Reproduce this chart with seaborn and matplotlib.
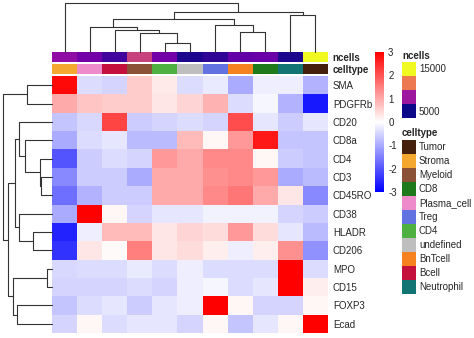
import numpy as np
import pandas as pd
import matplotlib
matplotlib.use("Agg")
import matplotlib.pyplot as plt
from matplotlib.colors import LinearSegmentedColormap, ListedColormap
from matplotlib.patches import Rectangle
import seaborn as sns

# data
markers = ["SMA", "PDGFRb", "CD20", "CD8a", "CD4", "CD3", "CD45RO",
           "CD38", "HLADR", "CD206", "MPO", "CD15", "FOXP3", "Ecad"]
celltypes = ["Stroma", "Plasma_cell", "Bcell", "Myeloid", "CD4", "undefined",
             "Treg", "BnTcell", "CD8", "Neutrophil", "Tumor"]
ncells = [7400, 6400, 4800, 9800, 6400, 3800, 4300, 5900, 6100, 3800, 16600]

values = [
    [2.9, -0.4, -0.5, 0.6, 0.25, -0.4, -0.25, -1.0, -0.2, -0.2, -0.9],   # SMA
    [1.0, 0.7, 0.6, 0.6, 0.3, 0.5, 0.9, -0.4, -0.1, -0.9, -2.7],        # PDGFRb
    [-0.7, -0.45, 2.2, -0.6, -0.5, -0.4, -0.5, 2.1, -0.3, -0.6, -0.3],  # CD20
    [-1.0, -0.4, -0.3, -0.8, -0.8, 0.8, 0.1, 1.2, 2.7, -0.7, -0.7],     # CD8a
    [-2.0, -0.6, -0.4, -0.5, 1.2, 1.0, 1.4, 1.4, 0.1, -0.6, -0.7],      # CD4
    [-1.4, -0.6, -0.6, -1.0, 1.0, 1.0, 1.3, 1.4, 1.2, -1.0, -0.8],      # CD3
    [-1.7, -0.9, -0.6, -0.6, 1.0, 1.0, 1.4, 1.6, 1.0, 0.3, -1.4],       # CD45RO
    [-1.0, 3.0, 0.1, -0.5, -0.3, -0.3, -0.15, -0.15, -0.15, -0.5, -0.6],  # CD38
    [-2.6, -0.2, 0.8, 0.8, 0.3, 0.5, 0.4, 1.2, 0.4, -0.3, -0.8],        # HLADR
    [-2.4, 0.3, 0.05, 1.5, 0.3, 0.4, 0.2, -0.2, 0.2, 1.3, -1.3],        # CD206
    [-0.45, -0.4, -0.4, -0.25, -0.4, -0.2, -0.4, -0.4, -0.4, 3.0, -0.4],  # MPO
    [-0.5, -0.5, -0.5, -0.4, -0.5, -0.2, -0.1, -0.4, -0.3, 3.0, 0.2],   # CD15
    [-0.7, -0.4, -0.3, -0.6, -0.3, -0.2, 3.0, 0.1, -0.5, -0.5, 0.1],    # FOXP3
    [-0.5, 0.1, -0.4, -0.3, -0.3, -0.5, 0.1, -0.7, -0.3, 0.1, 3.0],     # Ecad
]

# dendrogram merges: [left, right, height], clusters numbered from n upward
row_linkage = [
    [5, 6, 11], [4, 14, 12], [10, 11, 5], [8, 9, 19], [0, 1, 25],
    [3, 15, 27], [2, 19, 33], [7, 17, 33], [12, 13, 35], [20, 21, 37],
    [16, 22, 39], [23, 24, 44], [18, 25, 49],
]
col_linkage = [
    [4, 5, 9], [3, 11, 19], [7, 8, 20], [2, 12, 22], [1, 14, 25],
    [6, 13, 27], [15, 16, 33], [9, 10, 37], [17, 18, 40], [0, 19, 49],
]

celltype_colors = {
    "Tumor": "#45200c", "Stroma": "#f5a830", "Myeloid": "#8b5238",
    "CD8": "#1f7a1c", "Plasma_cell": "#ee8ccb", "Treg": "#6272e0",
    "CD4": "#4db040", "undefined": "#bebebe", "BnTcell": "#f5821f",
    "Bcell": "#c4103c", "Neutrophil": "#127473",
}
legend_order = ["Tumor", "Stroma", "Myeloid", "CD8", "Plasma_cell", "Treg",
                "CD4", "undefined", "BnTcell", "Bcell", "Neutrophil"]
ncells_range = (3500, 16600)

sns.set_style("white")
plt.rcParams["font.family"] = ["Liberation Sans", "DejaVu Sans"]
plt.rcParams["axes.unicode_minus"] = False

W, H = 474, 338
fig = plt.figure(figsize=(W / 100, H / 100), dpi=100)


def px_axes(x0, y0, x1, y1):
    return fig.add_axes([x0 / W, 1 - y1 / H, (x1 - x0) / W, (y1 - y0) / H])


def draw_dendrogram(ax, linkage, n, vertical):
    pos = {i: i + 0.5 for i in range(n)}
    hgt = {i: 0.0 for i in range(n)}
    for k, (a, b, h) in enumerate(linkage):
        xs = [pos[a], pos[a], pos[b], pos[b]]
        ys = [hgt[a], h, h, hgt[b]]
        if vertical:
            ax.plot(xs, ys, color="#333333", lw=0.8, clip_on=False)
        else:
            ax.plot(ys, xs, color="#333333", lw=0.8, clip_on=False)
        pos[n + k] = (pos[a] + pos[b]) / 2
        hgt[n + k] = h
    ax.axis("off")


df = pd.DataFrame(values, index=markers, columns=celltypes)
cmap = LinearSegmentedColormap.from_list("bwr3", ["#0000ff", "#ffffff", "#ff0000"])

x0, x1 = 52, 328
# main heatmap
ax_hm = px_axes(x0, 76, x1, 333)
sns.heatmap(df, ax=ax_hm, cmap=cmap, vmin=-3, vmax=3, cbar=False,
            xticklabels=False, yticklabels=True)
ax_hm.yaxis.tick_right()
ax_hm.tick_params(axis="y", length=0, pad=3.5, labelsize=7)
plt.setp(ax_hm.get_yticklabels(), rotation=0, ha="left")
ax_hm.set_xlabel("")
ax_hm.set_ylabel("")

# annotation bars
ax_n = px_axes(x0, 52, x1, 62)
sns.heatmap(np.array([ncells]), ax=ax_n, cmap="plasma", vmin=ncells_range[0],
            vmax=ncells_range[1], cbar=False, xticklabels=False, yticklabels=["ncells"])
ax_ct = px_axes(x0, 64, x1, 74)
ct_cmap = ListedColormap([celltype_colors[c] for c in celltypes])
sns.heatmap(np.arange(len(celltypes))[None, :], ax=ax_ct, cmap=ct_cmap,
            vmin=0, vmax=len(celltypes) - 1, cbar=False,
            xticklabels=False, yticklabels=["celltype"])
for ax in (ax_n, ax_ct):
    ax.yaxis.tick_right()
    ax.tick_params(axis="y", length=0, pad=3.5, labelsize=7)
    plt.setp(ax.get_yticklabels(), rotation=0, ha="left", fontweight="bold")

# dendrograms
ax_cd = px_axes(x0, 3, x1, 52)
draw_dendrogram(ax_cd, col_linkage, len(celltypes), vertical=True)
ax_cd.set_xlim(0, len(celltypes))
ax_cd.set_ylim(0, 49)

ax_rd = px_axes(3, 76, 52, 333)
draw_dendrogram(ax_rd, row_linkage, len(markers), vertical=False)
ax_rd.set_ylim(len(markers), 0)
ax_rd.set_xlim(49, 0)

# colour bar
cax = px_axes(375, 52, 384, 192)
cb = fig.colorbar(ax_hm.collections[0], cax=cax, ticks=[-3, -2, -1, 0, 1, 2, 3])
cb.outline.set_visible(False)
cax.tick_params(length=0, labelsize=7, pad=3)

# annotation legends
ax_lg = fig.add_axes([0, 0, 1, 1])
ax_lg.set_xlim(0, W)
ax_lg.set_ylim(H, 0)
ax_lg.axis("off")

lx, sw = 402, 14
ax_lg.text(lx, 56, "ncells", fontsize=7, fontweight="bold", va="center")
plasma = plt.get_cmap("plasma")
for i, t in enumerate([1.0, 2 / 3, 1 / 3, 0.0]):
    ax_lg.add_patch(Rectangle((lx, 62 + i * sw), sw, sw, color=plasma(t), lw=0))
span = ncells_range[1] - ncells_range[0]
for v in [15000, 5000]:
    y = 62 + (ncells_range[1] - v) / span * 4 * sw
    ax_lg.text(lx + sw + 3, y, str(v), fontsize=7, va="center")

ax_lg.text(lx, 133, "celltype", fontsize=7, fontweight="bold", va="center")
for i, c in enumerate(legend_order):
    y = 140 + i * sw
    ax_lg.add_patch(Rectangle((lx, y), sw, sw, color=celltype_colors[c], lw=0))
    ax_lg.text(lx + sw + 3, y + sw / 2, c, fontsize=7, va="center")

fig.savefig("out.png", dpi=100)
